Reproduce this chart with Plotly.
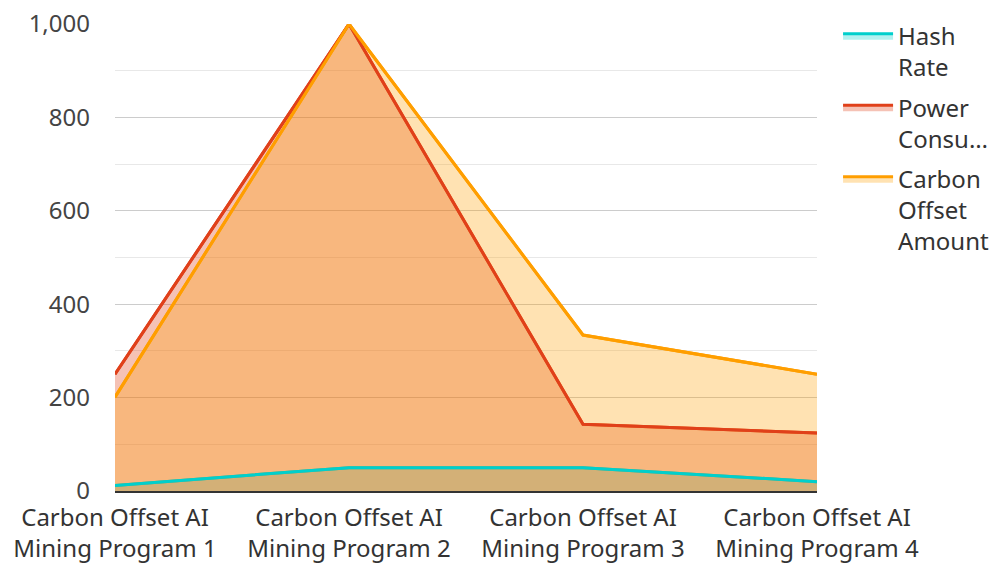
import plotly.graph_objects as go

categories = ["Carbon Offset AI<br>Mining Program 1", "Carbon Offset AI<br>Mining Program 2",
              "Carbon Offset AI<br>Mining Program 3", "Carbon Offset AI<br>Mining Program 4"]
hash_rate = [12, 50, 50, 20]
power_consumption = [250, 1000, 143, 124]
carbon_offset = [201, 1000, 334, 250]
series_names = ["Hash<br>Rate", "Power<br>Consu…", "Carbon<br>Offset<br>Amount"]
y_ticks = [0, 200, 400, 600, 800, 1000]
y_tick_text = ["0", "200", "400", "600", "800", "1,000"]

FONT = "Noto Sans"
fig = go.Figure()
specs = [
    (hash_rate, series_names[0], "#00cfcc", "rgba(0,207,204,0.30)"),
    (power_consumption, series_names[1], "#e0401a", "rgba(224,64,26,0.32)"),
    (carbon_offset, series_names[2], "#ff9e00", "rgba(255,158,0,0.30)"),
]
xs = list(range(len(categories)))
# fills (with legend)
for vals, name, lc, fc in specs:
    fig.add_trace(go.Scatter(
        x=xs, y=vals, name=name, mode="lines", legendgroup=name,
        line=dict(color=lc, width=3), fill="tozeroy", fillcolor=fc,
    ))
# lines on top
for vals, name, lc, fc in specs:
    fig.add_trace(go.Scatter(
        x=xs, y=vals, name=name, mode="lines", legendgroup=name, showlegend=False,
        line=dict(color=lc, width=3), hoverinfo="skip",
    ))

fig.update_layout(
    width=998, height=564,
    margin=dict(l=107, r=189, t=6, b=81),
    paper_bgcolor="white", plot_bgcolor="white",
    font=dict(family=FONT, size=24, color="#444"),
    legend=dict(x=1.03, y=1.022, xanchor="left", yanchor="top", valign="top",
                font=dict(family=FONT, size=24, color="#333"),
                tracegroupgap=6, itemwidth=50),
    showlegend=True,
)
fig.update_xaxes(
    tickmode="array", tickvals=xs, ticktext=categories,
    range=[0, 3], showgrid=False, zeroline=False, automargin=False,
    showline=True, linecolor="#333", linewidth=2, ticklabeloverflow="allow",
    tickfont=dict(family=FONT, size=24, color="#333"), ticks="", ticklabelstandoff=4,
)
fig.update_yaxes(
    range=[0, 1000], tickvals=y_ticks, ticktext=y_tick_text, automargin=False,
    showgrid=True, gridcolor="#cccccc", gridwidth=1, ticklabeloverflow="allow",
    minor=dict(dtick=100, showgrid=True, gridcolor="#e8e8e8", gridwidth=1),
    zeroline=False, showline=False, ticks="", ticklabelstandoff=24,
    tickfont=dict(family=FONT, size=24, color="#444"),
)
fig.write_html("out.html")
